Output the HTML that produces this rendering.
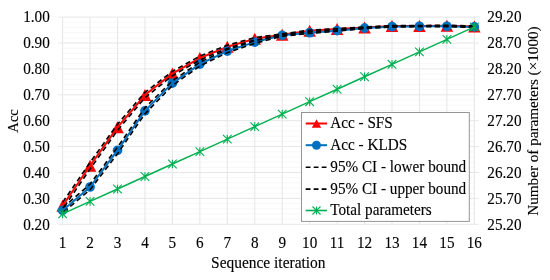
<!DOCTYPE html><html><head><meta charset="utf-8"><style>html,body{margin:0;padding:0;background:#fff;}svg{display:block;}text{font-family:"Liberation Serif", "Times New Roman", serif;font-size:15.2px;fill:#000;stroke:#000;stroke-width:0.12px;}</style></head><body>
<svg width="550" height="280" viewBox="0 0 550 280">
<rect width="550" height="280" fill="#fff"/>
<line x1="62.60" y1="22.28" x2="474.35" y2="22.28" stroke="#f7f7f7" stroke-width="1"/>
<line x1="62.60" y1="27.46" x2="474.35" y2="27.46" stroke="#f7f7f7" stroke-width="1"/>
<line x1="62.60" y1="32.64" x2="474.35" y2="32.64" stroke="#f7f7f7" stroke-width="1"/>
<line x1="62.60" y1="37.82" x2="474.35" y2="37.82" stroke="#f7f7f7" stroke-width="1"/>
<line x1="62.60" y1="48.18" x2="474.35" y2="48.18" stroke="#f7f7f7" stroke-width="1"/>
<line x1="62.60" y1="53.36" x2="474.35" y2="53.36" stroke="#f7f7f7" stroke-width="1"/>
<line x1="62.60" y1="58.54" x2="474.35" y2="58.54" stroke="#f7f7f7" stroke-width="1"/>
<line x1="62.60" y1="63.72" x2="474.35" y2="63.72" stroke="#f7f7f7" stroke-width="1"/>
<line x1="62.60" y1="74.08" x2="474.35" y2="74.08" stroke="#f7f7f7" stroke-width="1"/>
<line x1="62.60" y1="79.26" x2="474.35" y2="79.26" stroke="#f7f7f7" stroke-width="1"/>
<line x1="62.60" y1="84.44" x2="474.35" y2="84.44" stroke="#f7f7f7" stroke-width="1"/>
<line x1="62.60" y1="89.62" x2="474.35" y2="89.62" stroke="#f7f7f7" stroke-width="1"/>
<line x1="62.60" y1="99.98" x2="474.35" y2="99.98" stroke="#f7f7f7" stroke-width="1"/>
<line x1="62.60" y1="105.16" x2="474.35" y2="105.16" stroke="#f7f7f7" stroke-width="1"/>
<line x1="62.60" y1="110.34" x2="474.35" y2="110.34" stroke="#f7f7f7" stroke-width="1"/>
<line x1="62.60" y1="115.52" x2="474.35" y2="115.52" stroke="#f7f7f7" stroke-width="1"/>
<line x1="62.60" y1="125.88" x2="474.35" y2="125.88" stroke="#f7f7f7" stroke-width="1"/>
<line x1="62.60" y1="131.06" x2="474.35" y2="131.06" stroke="#f7f7f7" stroke-width="1"/>
<line x1="62.60" y1="136.24" x2="474.35" y2="136.24" stroke="#f7f7f7" stroke-width="1"/>
<line x1="62.60" y1="141.42" x2="474.35" y2="141.42" stroke="#f7f7f7" stroke-width="1"/>
<line x1="62.60" y1="151.78" x2="474.35" y2="151.78" stroke="#f7f7f7" stroke-width="1"/>
<line x1="62.60" y1="156.96" x2="474.35" y2="156.96" stroke="#f7f7f7" stroke-width="1"/>
<line x1="62.60" y1="162.14" x2="474.35" y2="162.14" stroke="#f7f7f7" stroke-width="1"/>
<line x1="62.60" y1="167.32" x2="474.35" y2="167.32" stroke="#f7f7f7" stroke-width="1"/>
<line x1="62.60" y1="177.68" x2="474.35" y2="177.68" stroke="#f7f7f7" stroke-width="1"/>
<line x1="62.60" y1="182.86" x2="474.35" y2="182.86" stroke="#f7f7f7" stroke-width="1"/>
<line x1="62.60" y1="188.04" x2="474.35" y2="188.04" stroke="#f7f7f7" stroke-width="1"/>
<line x1="62.60" y1="193.22" x2="474.35" y2="193.22" stroke="#f7f7f7" stroke-width="1"/>
<line x1="62.60" y1="203.58" x2="474.35" y2="203.58" stroke="#f7f7f7" stroke-width="1"/>
<line x1="62.60" y1="208.76" x2="474.35" y2="208.76" stroke="#f7f7f7" stroke-width="1"/>
<line x1="62.60" y1="213.94" x2="474.35" y2="213.94" stroke="#f7f7f7" stroke-width="1"/>
<line x1="62.60" y1="219.12" x2="474.35" y2="219.12" stroke="#f7f7f7" stroke-width="1"/>
<line x1="62.60" y1="17.10" x2="62.60" y2="224.30" stroke="#e6e6e6" stroke-width="1"/>
<line x1="90.05" y1="17.10" x2="90.05" y2="224.30" stroke="#e6e6e6" stroke-width="1"/>
<line x1="117.50" y1="17.10" x2="117.50" y2="224.30" stroke="#e6e6e6" stroke-width="1"/>
<line x1="144.95" y1="17.10" x2="144.95" y2="224.30" stroke="#e6e6e6" stroke-width="1"/>
<line x1="172.40" y1="17.10" x2="172.40" y2="224.30" stroke="#e6e6e6" stroke-width="1"/>
<line x1="199.85" y1="17.10" x2="199.85" y2="224.30" stroke="#e6e6e6" stroke-width="1"/>
<line x1="227.30" y1="17.10" x2="227.30" y2="224.30" stroke="#e6e6e6" stroke-width="1"/>
<line x1="254.75" y1="17.10" x2="254.75" y2="224.30" stroke="#e6e6e6" stroke-width="1"/>
<line x1="282.20" y1="17.10" x2="282.20" y2="224.30" stroke="#e6e6e6" stroke-width="1"/>
<line x1="309.65" y1="17.10" x2="309.65" y2="224.30" stroke="#e6e6e6" stroke-width="1"/>
<line x1="337.10" y1="17.10" x2="337.10" y2="224.30" stroke="#e6e6e6" stroke-width="1"/>
<line x1="364.55" y1="17.10" x2="364.55" y2="224.30" stroke="#e6e6e6" stroke-width="1"/>
<line x1="392.00" y1="17.10" x2="392.00" y2="224.30" stroke="#e6e6e6" stroke-width="1"/>
<line x1="419.45" y1="17.10" x2="419.45" y2="224.30" stroke="#e6e6e6" stroke-width="1"/>
<line x1="446.90" y1="17.10" x2="446.90" y2="224.30" stroke="#e6e6e6" stroke-width="1"/>
<line x1="474.35" y1="17.10" x2="474.35" y2="224.30" stroke="#e6e6e6" stroke-width="1"/>
<line x1="58.40" y1="17.10" x2="478.65" y2="17.10" stroke="#e6e6e6" stroke-width="1"/>
<line x1="58.40" y1="43.00" x2="478.65" y2="43.00" stroke="#e6e6e6" stroke-width="1"/>
<line x1="58.40" y1="68.90" x2="478.65" y2="68.90" stroke="#e6e6e6" stroke-width="1"/>
<line x1="58.40" y1="94.80" x2="478.65" y2="94.80" stroke="#e6e6e6" stroke-width="1"/>
<line x1="58.40" y1="120.70" x2="478.65" y2="120.70" stroke="#e6e6e6" stroke-width="1"/>
<line x1="58.40" y1="146.60" x2="478.65" y2="146.60" stroke="#e6e6e6" stroke-width="1"/>
<line x1="58.40" y1="172.50" x2="478.65" y2="172.50" stroke="#e6e6e6" stroke-width="1"/>
<line x1="58.40" y1="198.40" x2="478.65" y2="198.40" stroke="#e6e6e6" stroke-width="1"/>
<line x1="58.40" y1="224.30" x2="478.65" y2="224.30" stroke="#e6e6e6" stroke-width="1"/>
<polyline points="62.60,205.78 90.05,165.77 117.50,127.30 144.95,95.06 172.40,73.56 199.85,58.02 227.30,46.81 254.75,38.86 282.20,34.71 309.65,30.83 337.10,29.01 364.55,27.46 392.00,25.91 419.45,25.91 446.90,25.65 474.35,26.42" fill="none" stroke="#ff0000" stroke-width="2" stroke-linejoin="round"/>
<polygon points="62.60,199.78 68.85,211.78 56.35,211.78" fill="#ff0000"/>
<polygon points="90.05,159.77 96.30,171.77 83.80,171.77" fill="#ff0000"/>
<polygon points="117.50,121.30 123.75,133.30 111.25,133.30" fill="#ff0000"/>
<polygon points="144.95,89.06 151.20,101.06 138.70,101.06" fill="#ff0000"/>
<polygon points="172.40,67.56 178.65,79.56 166.15,79.56" fill="#ff0000"/>
<polygon points="199.85,52.02 206.10,64.02 193.60,64.02" fill="#ff0000"/>
<polygon points="227.30,40.81 233.55,52.81 221.05,52.81" fill="#ff0000"/>
<polygon points="254.75,32.86 261.00,44.86 248.50,44.86" fill="#ff0000"/>
<polygon points="282.20,28.71 288.45,40.71 275.95,40.71" fill="#ff0000"/>
<polygon points="309.65,24.83 315.90,36.83 303.40,36.83" fill="#ff0000"/>
<polygon points="337.10,23.01 343.35,35.01 330.85,35.01" fill="#ff0000"/>
<polygon points="364.55,21.46 370.80,33.46 358.30,33.46" fill="#ff0000"/>
<polygon points="392.00,19.91 398.25,31.91 385.75,31.91" fill="#ff0000"/>
<polygon points="419.45,19.91 425.70,31.91 413.20,31.91" fill="#ff0000"/>
<polygon points="446.90,19.65 453.15,31.65 440.65,31.65" fill="#ff0000"/>
<polygon points="474.35,20.42 480.60,32.42 468.10,32.42" fill="#ff0000"/>
<polyline points="62.60,210.39 90.05,187.00 117.50,150.41 144.95,110.86 172.40,83.14 199.85,64.11 227.30,51.03 254.75,42.09 282.20,35.31 309.65,32.72 337.10,30.65 364.55,28.11 392.00,26.68 419.45,26.29 446.90,26.29 474.35,26.94" fill="none" stroke="#0070c0" stroke-width="2" stroke-linejoin="round"/>
<circle cx="62.60" cy="210.39" r="4.85" fill="#0070c0"/>
<circle cx="90.05" cy="187.00" r="4.85" fill="#0070c0"/>
<circle cx="117.50" cy="150.41" r="4.85" fill="#0070c0"/>
<circle cx="144.95" cy="110.86" r="4.85" fill="#0070c0"/>
<circle cx="172.40" cy="83.14" r="4.85" fill="#0070c0"/>
<circle cx="199.85" cy="64.11" r="4.85" fill="#0070c0"/>
<circle cx="227.30" cy="51.03" r="4.85" fill="#0070c0"/>
<circle cx="254.75" cy="42.09" r="4.85" fill="#0070c0"/>
<circle cx="282.20" cy="35.31" r="4.85" fill="#0070c0"/>
<circle cx="309.65" cy="32.72" r="4.85" fill="#0070c0"/>
<circle cx="337.10" cy="30.65" r="4.85" fill="#0070c0"/>
<circle cx="364.55" cy="28.11" r="4.85" fill="#0070c0"/>
<circle cx="392.00" cy="26.68" r="4.85" fill="#0070c0"/>
<circle cx="419.45" cy="26.29" r="4.85" fill="#0070c0"/>
<circle cx="446.90" cy="26.29" r="4.85" fill="#0070c0"/>
<circle cx="474.35" cy="26.94" r="4.85" fill="#0070c0"/>
<polyline points="62.60,202.42 90.05,162.45 117.50,124.21 144.95,92.40 172.40,71.39 199.85,56.13 227.30,45.22 254.75,37.63 282.20,33.80 309.65,30.12 337.10,28.51 364.55,27.06 392.00,25.51 419.45,25.51 446.90,25.25 474.35,26.02" fill="none" stroke="#000" stroke-width="1.6" stroke-dasharray="5.1,3.4" stroke-dashoffset="8.21"/>
<polyline points="62.60,209.14 90.05,169.08 117.50,130.40 144.95,97.72 172.40,75.73 199.85,59.91 227.30,48.40 254.75,40.08 282.20,35.62 309.65,31.53 337.10,29.51 364.55,27.86 392.00,26.31 419.45,26.31 446.90,26.05 474.35,26.82" fill="none" stroke="#000" stroke-width="1.6" stroke-dasharray="5.1,3.4" stroke-dashoffset="5.63"/>
<polyline points="62.60,207.90 90.05,184.19 117.50,147.16 144.95,107.85 172.40,80.78 199.85,62.14 227.30,49.41 254.75,40.85 282.20,34.39 309.65,32.02 337.10,30.14 364.55,27.71 392.00,26.28 419.45,25.89 446.90,25.89 474.35,26.54" fill="none" stroke="#000" stroke-width="1.6" stroke-dasharray="5.1,3.4" stroke-dashoffset="8.36"/>
<polyline points="62.60,212.89 90.05,189.82 117.50,153.66 144.95,113.86 172.40,85.51 199.85,66.08 227.30,52.65 254.75,43.34 282.20,36.22 309.65,33.42 337.10,31.15 364.55,28.51 392.00,27.08 419.45,26.69 446.90,26.69 474.35,27.34" fill="none" stroke="#000" stroke-width="1.6" stroke-dasharray="5.1,3.4" stroke-dashoffset="6.95"/>
<polyline points="62.60,213.90 90.05,201.43 117.50,188.97 144.95,176.50 172.40,164.03 199.85,151.57 227.30,139.10 254.75,126.63 282.20,114.17 309.65,101.70 337.10,89.23 364.55,76.77 392.00,64.30 419.45,51.83 446.90,39.37 474.35,26.90" fill="none" stroke="#00b050" stroke-width="1.45" stroke-linejoin="round"/>
<path d="M58.30 209.60L66.90 218.20M66.90 209.60L58.30 218.20M62.60 209.60L62.60 218.20" stroke="#00b050" stroke-width="1.1" fill="none"/>
<path d="M85.75 197.13L94.35 205.73M94.35 197.13L85.75 205.73M90.05 197.13L90.05 205.73" stroke="#00b050" stroke-width="1.1" fill="none"/>
<path d="M113.20 184.67L121.80 193.27M121.80 184.67L113.20 193.27M117.50 184.67L117.50 193.27" stroke="#00b050" stroke-width="1.1" fill="none"/>
<path d="M140.65 172.20L149.25 180.80M149.25 172.20L140.65 180.80M144.95 172.20L144.95 180.80" stroke="#00b050" stroke-width="1.1" fill="none"/>
<path d="M168.10 159.73L176.70 168.33M176.70 159.73L168.10 168.33M172.40 159.73L172.40 168.33" stroke="#00b050" stroke-width="1.1" fill="none"/>
<path d="M195.55 147.27L204.15 155.87M204.15 147.27L195.55 155.87M199.85 147.27L199.85 155.87" stroke="#00b050" stroke-width="1.1" fill="none"/>
<path d="M223.00 134.80L231.60 143.40M231.60 134.80L223.00 143.40M227.30 134.80L227.30 143.40" stroke="#00b050" stroke-width="1.1" fill="none"/>
<path d="M250.45 122.33L259.05 130.93M259.05 122.33L250.45 130.93M254.75 122.33L254.75 130.93" stroke="#00b050" stroke-width="1.1" fill="none"/>
<path d="M277.90 109.87L286.50 118.47M286.50 109.87L277.90 118.47M282.20 109.87L282.20 118.47" stroke="#00b050" stroke-width="1.1" fill="none"/>
<path d="M305.35 97.40L313.95 106.00M313.95 97.40L305.35 106.00M309.65 97.40L309.65 106.00" stroke="#00b050" stroke-width="1.1" fill="none"/>
<path d="M332.80 84.93L341.40 93.53M341.40 84.93L332.80 93.53M337.10 84.93L337.10 93.53" stroke="#00b050" stroke-width="1.1" fill="none"/>
<path d="M360.25 72.47L368.85 81.07M368.85 72.47L360.25 81.07M364.55 72.47L364.55 81.07" stroke="#00b050" stroke-width="1.1" fill="none"/>
<path d="M387.70 60.00L396.30 68.60M396.30 60.00L387.70 68.60M392.00 60.00L392.00 68.60" stroke="#00b050" stroke-width="1.1" fill="none"/>
<path d="M415.15 47.53L423.75 56.13M423.75 47.53L415.15 56.13M419.45 47.53L419.45 56.13" stroke="#00b050" stroke-width="1.1" fill="none"/>
<path d="M442.60 35.07L451.20 43.67M451.20 35.07L442.60 43.67M446.90 35.07L446.90 43.67" stroke="#00b050" stroke-width="1.1" fill="none"/>
<path d="M470.05 22.60L478.65 31.20M478.65 22.60L470.05 31.20M474.35 22.60L474.35 31.20" stroke="#00b050" stroke-width="1.1" fill="none"/>
<text transform="translate(49.8,22.00) scale(1,1.06)" text-anchor="end">1.00</text>
<text transform="translate(487.3,22.00) scale(1,1.06)">29.20</text>
<text transform="translate(49.8,48.00) scale(1,1.06)" text-anchor="end">0.90</text>
<text transform="translate(487.3,48.00) scale(1,1.06)">28.70</text>
<text transform="translate(49.8,74.00) scale(1,1.06)" text-anchor="end">0.80</text>
<text transform="translate(487.3,74.00) scale(1,1.06)">28.20</text>
<text transform="translate(49.8,100.00) scale(1,1.06)" text-anchor="end">0.70</text>
<text transform="translate(487.3,100.00) scale(1,1.06)">27.70</text>
<text transform="translate(49.8,126.00) scale(1,1.06)" text-anchor="end">0.60</text>
<text transform="translate(487.3,126.00) scale(1,1.06)">27.20</text>
<text transform="translate(49.8,152.00) scale(1,1.06)" text-anchor="end">0.50</text>
<text transform="translate(487.3,152.00) scale(1,1.06)">26.70</text>
<text transform="translate(49.8,178.00) scale(1,1.06)" text-anchor="end">0.40</text>
<text transform="translate(487.3,178.00) scale(1,1.06)">26.20</text>
<text transform="translate(49.8,204.00) scale(1,1.06)" text-anchor="end">0.30</text>
<text transform="translate(487.3,204.00) scale(1,1.06)">25.70</text>
<text transform="translate(49.8,230.00) scale(1,1.06)" text-anchor="end">0.20</text>
<text transform="translate(487.3,230.00) scale(1,1.06)">25.20</text>
<text transform="translate(62.60,248.0) scale(1,1.06)" text-anchor="middle">1</text>
<text transform="translate(90.05,248.0) scale(1,1.06)" text-anchor="middle">2</text>
<text transform="translate(117.50,248.0) scale(1,1.06)" text-anchor="middle">3</text>
<text transform="translate(144.95,248.0) scale(1,1.06)" text-anchor="middle">4</text>
<text transform="translate(172.40,248.0) scale(1,1.06)" text-anchor="middle">5</text>
<text transform="translate(199.85,248.0) scale(1,1.06)" text-anchor="middle">6</text>
<text transform="translate(227.30,248.0) scale(1,1.06)" text-anchor="middle">7</text>
<text transform="translate(254.75,248.0) scale(1,1.06)" text-anchor="middle">8</text>
<text transform="translate(282.20,248.0) scale(1,1.06)" text-anchor="middle">9</text>
<text transform="translate(309.65,248.0) scale(1,1.06)" text-anchor="middle">10</text>
<text transform="translate(337.10,248.0) scale(1,1.06)" text-anchor="middle">11</text>
<text transform="translate(364.55,248.0) scale(1,1.06)" text-anchor="middle">12</text>
<text transform="translate(392.00,248.0) scale(1,1.06)" text-anchor="middle">13</text>
<text transform="translate(419.45,248.0) scale(1,1.06)" text-anchor="middle">14</text>
<text transform="translate(446.90,248.0) scale(1,1.06)" text-anchor="middle">15</text>
<text transform="translate(474.35,248.0) scale(1,1.06)" text-anchor="middle">16</text>
<text transform="translate(268.3,267.7) scale(1,1.06)" text-anchor="middle" style="font-size:15.45px">Sequence iteration</text>
<text transform="translate(17.6,120.9) rotate(-90)" text-anchor="middle" style="font-size:14.6px">Acc</text>
<text transform="translate(537.8,121.1) rotate(-90)" text-anchor="middle">Number of parameters (×1000)</text>
<rect x="301.50" y="112.50" width="167.80" height="108.90" fill="#fff" stroke="#959595" stroke-width="1"/>
<line x1="305.70" y1="123.50" x2="327.10" y2="123.50" stroke="#ff0000" stroke-width="2"/>
<polygon points="316.50,119.20 321.20,127.80 311.80,127.80" fill="#ff0000"/>
<line x1="305.70" y1="145.20" x2="327.10" y2="145.20" stroke="#0070c0" stroke-width="2"/>
<circle cx="316.50" cy="145.20" r="4.5" fill="#0070c0"/>
<line x1="305.70" y1="167.30" x2="327.10" y2="167.30" stroke="#000" stroke-width="1.6" stroke-dasharray="4.8,3.2"/>
<line x1="305.70" y1="189.10" x2="327.10" y2="189.10" stroke="#000" stroke-width="1.6" stroke-dasharray="4.8,3.2"/>
<line x1="305.70" y1="210.50" x2="327.10" y2="210.50" stroke="#00b050" stroke-width="1.6"/>
<path d="M312.50 206.50L320.50 214.50M320.50 206.50L312.50 214.50M316.50 206.50L316.50 214.50" stroke="#00b050" stroke-width="1.1" fill="none"/>
<text transform="translate(330.3,128.40) scale(1,1.06)">Acc - SFS</text>
<text transform="translate(330.3,150.10) scale(1,1.06)">Acc - KLDS</text>
<text transform="translate(330.3,172.20) scale(1,1.06)">95% CI - lower bound</text>
<text transform="translate(330.3,194.00) scale(1,1.06)">95% CI - upper bound</text>
<text transform="translate(330.3,215.40) scale(1,1.06)">Total parameters</text>
</svg></body></html>
